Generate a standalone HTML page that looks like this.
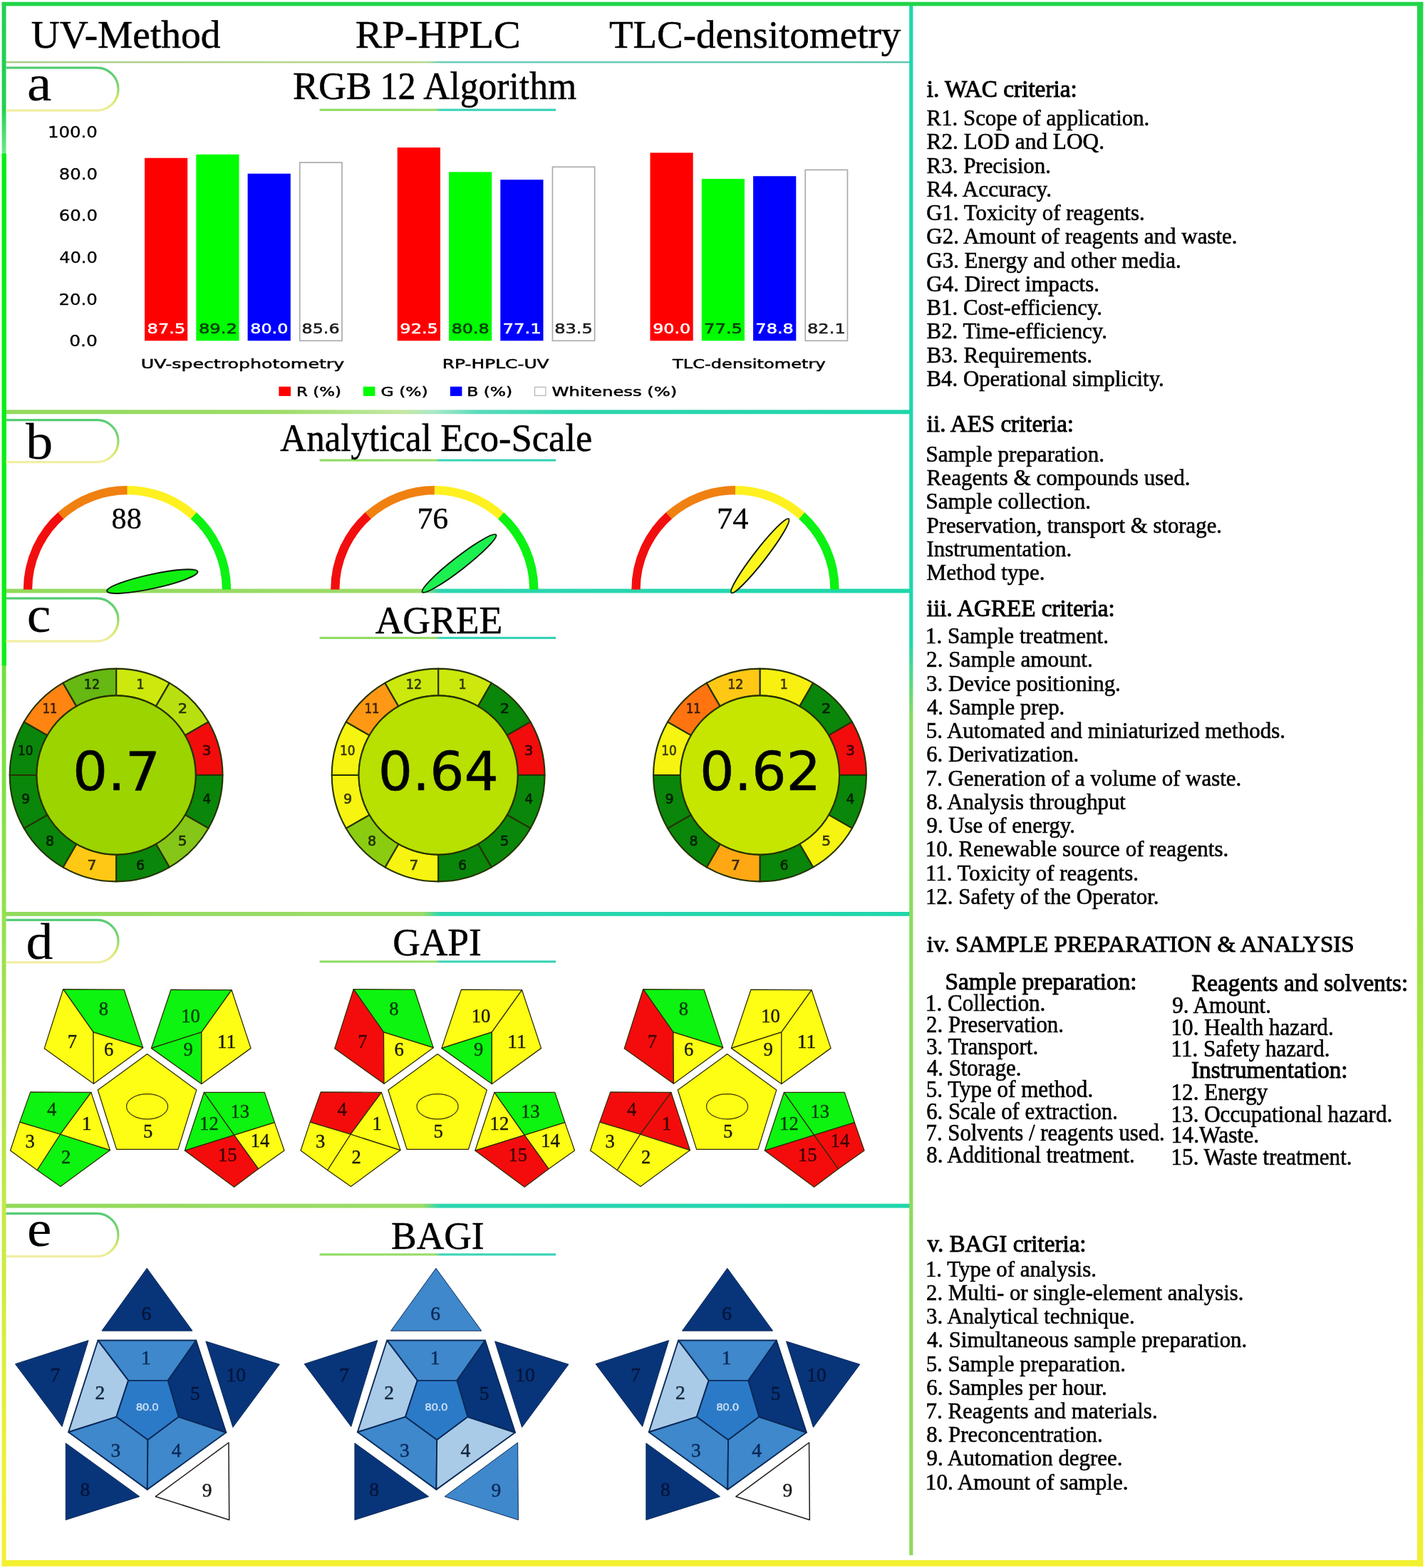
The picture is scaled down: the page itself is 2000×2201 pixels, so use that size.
<!DOCTYPE html>
<html lang="en">
<head>
<meta charset="utf-8">
<title>Greenness, whiteness and blueness assessment of UV, RP-HPLC and TLC-densitometry methods</title>
<style>
html,body{margin:0;padding:0;background:#fff}
body{width:2000px;height:2201px;overflow:hidden}
svg{display:block}
text{white-space:pre}
.s{font-family:"Liberation Serif",serif}
.d{font-family:"DejaVu Sans","Liberation Sans",sans-serif}
.a{font-family:"Liberation Sans",sans-serif}
</style>
</head>
<body>
<svg width="2000" height="2201" viewBox="0 0 2000 2201">
<defs>
<linearGradient id="gL" gradientUnits="userSpaceOnUse" x1="0" y1="3" x2="0" y2="2199">
<stop offset="0" stop-color="#22d050"/><stop offset="0.068" stop-color="#22d050"/>
<stop offset="0.0965" stop-color="#6ee88c"/><stop offset="0.097" stop-color="#04ee12"/>
<stop offset="0.4235" stop-color="#0cee18"/><stop offset="0.4245" stop-color="#70e040"/>
<stop offset="0.60" stop-color="#98e050"/><stop offset="0.78" stop-color="#c4ea44"/>
<stop offset="0.93" stop-color="#eef034"/><stop offset="1" stop-color="#f2f030"/>
</linearGradient>
<linearGradient id="gR" gradientUnits="userSpaceOnUse" x1="0" y1="3" x2="0" y2="2199">
<stop offset="0" stop-color="#22d44a"/><stop offset="0.25" stop-color="#3cd848"/>
<stop offset="0.5" stop-color="#80e040"/><stop offset="0.75" stop-color="#c0ea3c"/>
<stop offset="0.95" stop-color="#f0f030"/><stop offset="1" stop-color="#f2f030"/>
</linearGradient>
<linearGradient id="gD" gradientUnits="userSpaceOnUse" x1="0" y1="9" x2="0" y2="2183">
<stop offset="0" stop-color="#20d6ac"/><stop offset="0.41" stop-color="#20d6ac"/>
<stop offset="0.46" stop-color="#8adc60"/><stop offset="1" stop-color="#92d85c"/>
</linearGradient>
<linearGradient id="gP" x1="0" y1="0" x2="0" y2="1">
<stop offset="0" stop-color="#54cc74"/><stop offset="0.4" stop-color="#7cd470"/>
<stop offset="0.75" stop-color="#d6e868"/><stop offset="1" stop-color="#f2eea4"/>
</linearGradient>
<linearGradient id="gH" gradientUnits="userSpaceOnUse" x1="9" y1="0" x2="1277" y2="0">
<stop offset="0" stop-color="#a8cc84"/><stop offset="0.465" stop-color="#b4d888"/>
<stop offset="0.48" stop-color="#62ccb8"/><stop offset="1" stop-color="#5cc6b0"/>
</linearGradient>
<linearGradient id="gS" gradientUnits="userSpaceOnUse" x1="9" y1="0" x2="1277" y2="0">
<stop offset="0" stop-color="#92da5c"/><stop offset="0.46" stop-color="#9cdc6a"/>
<stop offset="0.48" stop-color="#2cd6b0"/><stop offset="1" stop-color="#20d6ac"/>
</linearGradient>
<linearGradient id="gS1" gradientUnits="userSpaceOnUse" x1="9" y1="0" x2="1277" y2="0">
<stop offset="0" stop-color="#92da5c"/><stop offset="0.3" stop-color="#9cdc68"/>
<stop offset="0.44" stop-color="#c4e8a4"/><stop offset="0.475" stop-color="#a8e8c8"/>
<stop offset="0.52" stop-color="#5cdcbc"/><stop offset="0.62" stop-color="#30d6ae"/><stop offset="1" stop-color="#20d6ac"/>
</linearGradient>
<linearGradient id="gU" gradientUnits="userSpaceOnUse" x1="449" y1="0" x2="780" y2="0">
<stop offset="0" stop-color="#8edc60"/><stop offset="0.49" stop-color="#98dc68"/>
<stop offset="0.51" stop-color="#3cd4b8"/><stop offset="1" stop-color="#34d2b4"/>
</linearGradient>
<filter id="soft" x="0" y="0" width="2000" height="2201" filterUnits="userSpaceOnUse" color-interpolation-filters="sRGB"><feGaussianBlur stdDeviation="0.6"/></filter>
</defs>
<g filter="url(#soft)">
<rect x="0" y="0" width="2000" height="2201" fill="#fff"/>
<rect x="8" y="86.1" width="1269" height="2.4" fill="url(#gH)"/>
<rect x="8" y="575.3" width="1269" height="5.9" fill="url(#gS1)"/>
<rect x="8" y="826.5" width="1269" height="5.9" fill="url(#gS)"/>
<rect x="8" y="1280" width="1269" height="5.9" fill="url(#gS)"/>
<rect x="8" y="1689.7" width="1269" height="5.9" fill="url(#gS)"/>
<rect x="1276.2" y="8" width="5.2" height="2175" fill="url(#gD)"/>
<rect x="2.6" y="3" width="5.9" height="213" fill="url(#gL)"/>
<rect x="2.5" y="216" width="6.4" height="719" fill="url(#gL)"/>
<rect x="2.6" y="935" width="5.9" height="1263.7" fill="url(#gL)"/>
<rect x="1989" y="3" width="8.4" height="2195.7" fill="url(#gR)"/>
<rect x="2.7" y="2.7" width="1994.7" height="5.7" fill="#22d44a"/>
<rect x="2.7" y="2190" width="1994.7" height="8.7" fill="#f2f030"/>
<path d="M8.5 95.1 H135.95 A30.05 30.05 0 0 1 135.95 155.2 H8.5" fill="none" stroke="url(#gP)" stroke-width="3.2"/>
<path d="M8.5 589.7 H136.55 A29.45 29.45 0 0 1 136.55 648.6 H8.5" fill="none" stroke="url(#gP)" stroke-width="3.2"/>
<path d="M8.5 839.9 H135.85 A30.15 30.15 0 0 1 135.85 900.2 H8.5" fill="none" stroke="url(#gP)" stroke-width="3.2"/>
<path d="M8.5 1291.3 H136.25 A29.75 29.75 0 0 1 136.25 1350.8 H8.5" fill="none" stroke="url(#gP)" stroke-width="3.2"/>
<path d="M8.5 1703.3 H135.8 A30.2 30.2 0 0 1 135.8 1763.7 H8.5" fill="none" stroke="url(#gP)" stroke-width="3.2"/>
<text class="s" x="38" y="140.9" font-size="72" textLength="34.36" lengthAdjust="spacingAndGlyphs" stroke="#000" stroke-width="0.15">a</text>
<text class="s" x="36.1" y="644.4" font-size="72" textLength="38.26" lengthAdjust="spacingAndGlyphs" stroke="#000" stroke-width="0.15">b</text>
<text class="s" x="37.78" y="886.6" font-size="72" textLength="33.58" lengthAdjust="spacingAndGlyphs" stroke="#000" stroke-width="0.15">c</text>
<text class="s" x="36.45" y="1346.2" font-size="72" textLength="37.8" lengthAdjust="spacingAndGlyphs" stroke="#000" stroke-width="0.15">d</text>
<text class="s" x="37.91" y="1749.3" font-size="72" textLength="34.4" lengthAdjust="spacingAndGlyphs" stroke="#000" stroke-width="0.15">e</text>
<text class="s" x="43.71" y="66.8" font-size="55" textLength="265.75" lengthAdjust="spacingAndGlyphs" stroke="#000" stroke-width="0.5">UV-Method</text>
<text class="s" x="498.71" y="66.8" font-size="55" textLength="231.9" lengthAdjust="spacingAndGlyphs" stroke="#000" stroke-width="0.5">RP-HPLC</text>
<text class="s" x="854.9" y="66.8" font-size="55" textLength="409.37" lengthAdjust="spacingAndGlyphs" stroke="#000" stroke-width="0.5">TLC-densitometry</text>
<rect x="448.6" y="152.7" width="331.4" height="3.1" fill="url(#gU)"/>
<text class="s" y="139.2" font-size="55" stroke="#000" stroke-width="0.5"><tspan x="410.98" textLength="110.86" lengthAdjust="spacingAndGlyphs">RGB</tspan> <tspan x="533.43" textLength="50.23" lengthAdjust="spacingAndGlyphs">12</tspan> <tspan x="594.19" textLength="214.89" lengthAdjust="spacingAndGlyphs">Algorithm</tspan></text>
<rect x="448.6" y="644.5" width="331.4" height="3.1" fill="url(#gU)"/>
<text class="s" y="632.9" font-size="55" stroke="#000" stroke-width="0.5"><tspan x="393.29" textLength="212.53" lengthAdjust="spacingAndGlyphs">Analytical</tspan> <tspan x="618.23" textLength="213.11" lengthAdjust="spacingAndGlyphs">Eco-Scale</tspan></text>
<rect x="448.6" y="893.9" width="331.4" height="3.1" fill="url(#gU)"/>
<text class="s" y="889" font-size="55" stroke="#000" stroke-width="0.5"><tspan x="526.66" textLength="178.62" lengthAdjust="spacingAndGlyphs">AGREE</tspan></text>
<rect x="448.6" y="1348.3" width="331.4" height="3.1" fill="url(#gU)"/>
<text class="s" y="1341.1" font-size="55" stroke="#000" stroke-width="0.5"><tspan x="551.16" textLength="124.71" lengthAdjust="spacingAndGlyphs">GAPI</tspan></text>
<rect x="448.6" y="1759.4" width="331.4" height="3.1" fill="url(#gU)"/>
<text class="s" y="1752.9" font-size="55" stroke="#000" stroke-width="0.5"><tspan x="548.99" textLength="130.68" lengthAdjust="spacingAndGlyphs">BAGI</tspan></text>
<text class="d" x="97.28" y="486.2" font-size="21" textLength="39.64" lengthAdjust="spacingAndGlyphs" stroke="#000" stroke-width="0.3">0.0</text>
<text class="d" x="82.57" y="427.56" font-size="21" textLength="54.32" lengthAdjust="spacingAndGlyphs" stroke="#000" stroke-width="0.3">20.0</text>
<text class="d" x="83.19" y="368.92" font-size="21" textLength="53.67" lengthAdjust="spacingAndGlyphs" stroke="#000" stroke-width="0.3">40.0</text>
<text class="d" x="82.7" y="310.28" font-size="21" textLength="54.19" lengthAdjust="spacingAndGlyphs" stroke="#000" stroke-width="0.3">60.0</text>
<text class="d" x="82.82" y="251.64" font-size="21" textLength="54.06" lengthAdjust="spacingAndGlyphs" stroke="#000" stroke-width="0.3">80.0</text>
<text class="d" x="67.01" y="193" font-size="21" textLength="69.88" lengthAdjust="spacingAndGlyphs" stroke="#000" stroke-width="0.3">100.0</text>
<rect x="203" y="221.75" width="60.2" height="256.55" fill="#fe0000"/>
<text class="d" x="206.63" y="467.8" font-size="19.3" textLength="53.61" lengthAdjust="spacingAndGlyphs" fill="#ffffff" stroke="#ffffff" stroke-width="0.5">87.5</text>
<rect x="275.3" y="216.77" width="60.2" height="261.53" fill="#00fe00"/>
<text class="d" x="278.92" y="467.8" font-size="19.3" textLength="54" lengthAdjust="spacingAndGlyphs" fill="#063806" stroke="#063806" stroke-width="0.5">89.2</text>
<rect x="347.6" y="243.74" width="60.2" height="234.56" fill="#0000fe"/>
<text class="d" x="351.25" y="467.8" font-size="19.3" textLength="53.1" lengthAdjust="spacingAndGlyphs" fill="#ffffff" stroke="#ffffff" stroke-width="0.5">80.0</text>
<rect x="420.75" y="228.17" width="59.2" height="250.13" fill="#fff" stroke="#ababab" stroke-width="1.7"/>
<text class="d" x="423.55" y="467.8" font-size="19.3" textLength="52.98" lengthAdjust="spacingAndGlyphs" fill="#1a1a1a" stroke="#1a1a1a" stroke-width="0.5">85.6</text>
<text class="d" x="197.87" y="517.4" font-size="18.2" textLength="285.36" lengthAdjust="spacingAndGlyphs" stroke="#000" stroke-width="0.5">UV-spectrophotometry</text>
<rect x="557.7" y="207.09" width="60.2" height="271.21" fill="#fe0000"/>
<text class="d" x="561.33" y="467.8" font-size="19.3" textLength="53.61" lengthAdjust="spacingAndGlyphs" fill="#ffffff" stroke="#ffffff" stroke-width="0.5">92.5</text>
<rect x="630" y="241.39" width="60.2" height="236.91" fill="#00fe00"/>
<text class="d" x="633.65" y="467.8" font-size="19.3" textLength="53.1" lengthAdjust="spacingAndGlyphs" fill="#063806" stroke="#063806" stroke-width="0.5">80.8</text>
<rect x="702.3" y="252.24" width="60.2" height="226.06" fill="#0000fe"/>
<text class="d" x="705.55" y="467.8" font-size="19.3" textLength="54.14" lengthAdjust="spacingAndGlyphs" fill="#ffffff" stroke="#ffffff" stroke-width="0.5">77.1</text>
<rect x="775.45" y="234.33" width="59.2" height="243.97" fill="#fff" stroke="#ababab" stroke-width="1.7"/>
<text class="d" x="778.23" y="467.8" font-size="19.3" textLength="53.61" lengthAdjust="spacingAndGlyphs" fill="#1a1a1a" stroke="#1a1a1a" stroke-width="0.5">83.5</text>
<text class="d" x="620.82" y="517.4" font-size="18.2" textLength="149.82" lengthAdjust="spacingAndGlyphs" stroke="#000" stroke-width="0.5">RP-HPLC-UV</text>
<rect x="912.5" y="214.42" width="60.2" height="263.88" fill="#fe0000"/>
<text class="d" x="916.15" y="467.8" font-size="19.3" textLength="53.1" lengthAdjust="spacingAndGlyphs" fill="#ffffff" stroke="#ffffff" stroke-width="0.5">90.0</text>
<rect x="984.8" y="251.07" width="60.2" height="227.23" fill="#00fe00"/>
<text class="d" x="988.06" y="467.8" font-size="19.3" textLength="54" lengthAdjust="spacingAndGlyphs" fill="#063806" stroke="#063806" stroke-width="0.5">77.5</text>
<rect x="1057.1" y="247.26" width="60.2" height="231.04" fill="#0000fe"/>
<text class="d" x="1060.38" y="467.8" font-size="19.3" textLength="53.49" lengthAdjust="spacingAndGlyphs" fill="#ffffff" stroke="#ffffff" stroke-width="0.5">78.8</text>
<rect x="1130.25" y="238.43" width="59.2" height="239.87" fill="#fff" stroke="#ababab" stroke-width="1.7"/>
<text class="d" x="1133.03" y="467.8" font-size="19.3" textLength="53.74" lengthAdjust="spacingAndGlyphs" fill="#1a1a1a" stroke="#1a1a1a" stroke-width="0.5">82.1</text>
<text class="d" x="944.12" y="517.4" font-size="18.2" textLength="214.6" lengthAdjust="spacingAndGlyphs" stroke="#000" stroke-width="0.5">TLC-densitometry</text>
<rect x="391.4" y="542.7" width="16.6" height="13.2" fill="#fe0000"/>
<text class="d" x="416.11" y="555.7" font-size="17.2" textLength="62.83" lengthAdjust="spacingAndGlyphs" stroke="#000" stroke-width="0.5">R (%)</text>
<rect x="509.8" y="542.7" width="16.6" height="13.2" fill="#00fe00"/>
<text class="d" x="534.62" y="555.7" font-size="17.2" textLength="65.97" lengthAdjust="spacingAndGlyphs" stroke="#000" stroke-width="0.5">G (%)</text>
<rect x="631.8" y="542.7" width="16.6" height="13.2" fill="#0000fe"/>
<text class="d" x="655.26" y="555.7" font-size="17.2" textLength="63.92" lengthAdjust="spacingAndGlyphs" stroke="#000" stroke-width="0.5">B (%)</text>
<rect x="750.5" y="543.4" width="15.4" height="11.9" fill="#fff" stroke="#b8b8b8" stroke-width="1.3"/>
<text class="d" x="774.45" y="555.7" font-size="17.2" textLength="175.91" lengthAdjust="spacingAndGlyphs" stroke="#000" stroke-width="0.5">Whiteness (%)</text>
<path d="M39 827.6 A139.5 139.5 0 0 1 86.06 723.12" fill="none" stroke="#f20e0e" stroke-width="12.3"/>
<path d="M85.16 723.93 A139.5 139.5 0 0 1 179.72 688.11" fill="none" stroke="#f08010" stroke-width="12.3"/>
<path d="M178.5 688.1 A139.5 139.5 0 0 1 272.74 724.75" fill="none" stroke="#fff020" stroke-width="12.3"/>
<path d="M271.84 723.93 A139.5 139.5 0 0 1 318 827.6" fill="none" stroke="#0cf212" stroke-width="12.3"/>
<text class="s" x="156.62" y="741.8" font-size="41.5" textLength="42.07" lengthAdjust="spacingAndGlyphs" stroke="#000" stroke-width="0.3">88</text>
<ellipse cx="213.8" cy="816.1" rx="65.08" ry="10" transform="rotate(-12.16 213.8 816.1)" fill="#10f010" stroke="#0e160a" stroke-width="1.9"/>
<path d="M470.3 827.6 A139.5 139.5 0 0 1 517.36 723.12" fill="none" stroke="#f20e0e" stroke-width="12.3"/>
<path d="M516.46 723.93 A139.5 139.5 0 0 1 611.02 688.11" fill="none" stroke="#f08010" stroke-width="12.3"/>
<path d="M609.8 688.1 A139.5 139.5 0 0 1 704.04 724.75" fill="none" stroke="#fff020" stroke-width="12.3"/>
<path d="M703.14 723.93 A139.5 139.5 0 0 1 749.3 827.6" fill="none" stroke="#0cf212" stroke-width="12.3"/>
<text class="s" x="585.46" y="741.8" font-size="41.5" textLength="43.76" lengthAdjust="spacingAndGlyphs" stroke="#000" stroke-width="0.3">76</text>
<ellipse cx="644.5" cy="790.85" rx="65.48" ry="8.9" transform="rotate(-37.87 644.5 790.85)" fill="#1cf050" stroke="#0e160a" stroke-width="1.9"/>
<path d="M892.5 827.6 A139.5 139.5 0 0 1 939.56 723.12" fill="none" stroke="#f20e0e" stroke-width="12.3"/>
<path d="M938.66 723.93 A139.5 139.5 0 0 1 1033.22 688.11" fill="none" stroke="#f08010" stroke-width="12.3"/>
<path d="M1032 688.1 A139.5 139.5 0 0 1 1126.24 724.75" fill="none" stroke="#fff020" stroke-width="12.3"/>
<path d="M1125.34 723.93 A139.5 139.5 0 0 1 1171.5 827.6" fill="none" stroke="#0cf212" stroke-width="12.3"/>
<text class="s" x="1005.91" y="741.8" font-size="41.5" textLength="44.46" lengthAdjust="spacingAndGlyphs" stroke="#000" stroke-width="0.3">74</text>
<ellipse cx="1066.75" cy="780.2" rx="65.64" ry="8.4" transform="rotate(-52.23 1066.75 780.2)" fill="#fcf61c" stroke="#0e160a" stroke-width="1.9"/>
<path d="M163.1 938.6 A149.4 149.4 0 0 1 237.8 958.62 L218.9 991.35 A111.6 111.6 0 0 0 163.1 976.4 Z" fill="#cce80c" stroke="#263200" stroke-width="2.1" stroke-linejoin="round"/>
<path d="M237.8 958.62 A149.4 149.4 0 0 1 292.48 1013.3 L259.75 1032.2 A111.6 111.6 0 0 0 218.9 991.35 Z" fill="#b8e010" stroke="#263200" stroke-width="2.1" stroke-linejoin="round"/>
<path d="M292.48 1013.3 A149.4 149.4 0 0 1 312.5 1088 L274.7 1088 A111.6 111.6 0 0 0 259.75 1032.2 Z" fill="#f20c0c" stroke="#263200" stroke-width="2.1" stroke-linejoin="round"/>
<path d="M312.5 1088 A149.4 149.4 0 0 1 292.48 1162.7 L259.75 1143.8 A111.6 111.6 0 0 0 274.7 1088 Z" fill="#0a860a" stroke="#263200" stroke-width="2.1" stroke-linejoin="round"/>
<path d="M292.48 1162.7 A149.4 149.4 0 0 1 237.8 1217.38 L218.9 1184.65 A111.6 111.6 0 0 0 259.75 1143.8 Z" fill="#86c618" stroke="#263200" stroke-width="2.1" stroke-linejoin="round"/>
<path d="M237.8 1217.38 A149.4 149.4 0 0 1 163.1 1237.4 L163.1 1199.6 A111.6 111.6 0 0 0 218.9 1184.65 Z" fill="#0a860a" stroke="#263200" stroke-width="2.1" stroke-linejoin="round"/>
<path d="M163.1 1237.4 A149.4 149.4 0 0 1 88.4 1217.38 L107.3 1184.65 A111.6 111.6 0 0 0 163.1 1199.6 Z" fill="#ffc814" stroke="#263200" stroke-width="2.1" stroke-linejoin="round"/>
<path d="M88.4 1217.38 A149.4 149.4 0 0 1 33.72 1162.7 L66.45 1143.8 A111.6 111.6 0 0 0 107.3 1184.65 Z" fill="#0a860a" stroke="#263200" stroke-width="2.1" stroke-linejoin="round"/>
<path d="M33.72 1162.7 A149.4 149.4 0 0 1 13.7 1088 L51.5 1088 A111.6 111.6 0 0 0 66.45 1143.8 Z" fill="#0a860a" stroke="#263200" stroke-width="2.1" stroke-linejoin="round"/>
<path d="M13.7 1088 A149.4 149.4 0 0 1 33.72 1013.3 L66.45 1032.2 A111.6 111.6 0 0 0 51.5 1088 Z" fill="#0a860a" stroke="#263200" stroke-width="2.1" stroke-linejoin="round"/>
<path d="M33.72 1013.3 A149.4 149.4 0 0 1 88.4 958.62 L107.3 991.35 A111.6 111.6 0 0 0 66.45 1032.2 Z" fill="#ff8412" stroke="#263200" stroke-width="2.1" stroke-linejoin="round"/>
<path d="M88.4 958.62 A149.4 149.4 0 0 1 163.1 938.6 L163.1 976.4 A111.6 111.6 0 0 0 107.3 991.35 Z" fill="#66b812" stroke="#263200" stroke-width="2.1" stroke-linejoin="round"/>
<circle cx="163.1" cy="1088" r="111.6" fill="#9cd400" stroke="#263200" stroke-width="2.1"/>
<text class="d" x="191.41" y="966.58" font-size="20" textLength="11.09" lengthAdjust="spacingAndGlyphs" fill="#303702" stroke="#303702" stroke-width="0.7">1</text>
<text class="d" x="249.72" y="1000.62" font-size="20" textLength="13.25" lengthAdjust="spacingAndGlyphs" fill="#2c3503" stroke="#2c3503" stroke-width="0.7">2</text>
<text class="d" x="283.82" y="1059.57" font-size="20" textLength="12.7" lengthAdjust="spacingAndGlyphs" fill="#3a0202" stroke="#3a0202" stroke-width="0.7">3</text>
<text class="d" x="284.41" y="1127.63" font-size="20" textLength="11.5" lengthAdjust="spacingAndGlyphs" fill="#022002" stroke="#022002" stroke-width="0.7">4</text>
<text class="d" x="249.77" y="1186.58" font-size="20" textLength="12.83" lengthAdjust="spacingAndGlyphs" fill="#202f05" stroke="#202f05" stroke-width="0.7">5</text>
<text class="d" x="191" y="1220.62" font-size="20" textLength="12.07" lengthAdjust="spacingAndGlyphs" fill="#022002" stroke="#022002" stroke-width="0.7">6</text>
<text class="d" x="122.63" y="1220.62" font-size="20" textLength="12.97" lengthAdjust="spacingAndGlyphs" fill="#3d3004" stroke="#3d3004" stroke-width="0.7">7</text>
<text class="d" x="64.08" y="1186.58" font-size="20" textLength="12.07" lengthAdjust="spacingAndGlyphs" fill="#022002" stroke="#022002" stroke-width="0.7">8</text>
<text class="d" x="30.03" y="1127.63" font-size="20" textLength="12.19" lengthAdjust="spacingAndGlyphs" fill="#022002" stroke="#022002" stroke-width="0.7">9</text>
<text class="d" x="24.91" y="1059.57" font-size="20" textLength="21.57" lengthAdjust="spacingAndGlyphs" fill="#022002" stroke="#022002" stroke-width="0.7">10</text>
<text class="d" x="59.63" y="1000.62" font-size="20" textLength="20.65" lengthAdjust="spacingAndGlyphs" fill="#3d1f04" stroke="#3d1f04" stroke-width="0.7">11</text>
<text class="d" x="117.84" y="966.58" font-size="20" textLength="22.28" lengthAdjust="spacingAndGlyphs" fill="#182c04" stroke="#182c04" stroke-width="0.7">12</text>
<text class="d" x="101.98" y="1109.3" font-size="75.6" textLength="122.89" lengthAdjust="spacingAndGlyphs" stroke="#000" stroke-width="0.6">0.7</text>
<path d="M615.1 938.6 A149.4 149.4 0 0 1 689.8 958.62 L670.9 991.35 A111.6 111.6 0 0 0 615.1 976.4 Z" fill="#cce80c" stroke="#263200" stroke-width="2.1" stroke-linejoin="round"/>
<path d="M689.8 958.62 A149.4 149.4 0 0 1 744.48 1013.3 L711.75 1032.2 A111.6 111.6 0 0 0 670.9 991.35 Z" fill="#0a860a" stroke="#263200" stroke-width="2.1" stroke-linejoin="round"/>
<path d="M744.48 1013.3 A149.4 149.4 0 0 1 764.5 1088 L726.7 1088 A111.6 111.6 0 0 0 711.75 1032.2 Z" fill="#f20c0c" stroke="#263200" stroke-width="2.1" stroke-linejoin="round"/>
<path d="M764.5 1088 A149.4 149.4 0 0 1 744.48 1162.7 L711.75 1143.8 A111.6 111.6 0 0 0 726.7 1088 Z" fill="#0a860a" stroke="#263200" stroke-width="2.1" stroke-linejoin="round"/>
<path d="M744.48 1162.7 A149.4 149.4 0 0 1 689.8 1217.38 L670.9 1184.65 A111.6 111.6 0 0 0 711.75 1143.8 Z" fill="#0a860a" stroke="#263200" stroke-width="2.1" stroke-linejoin="round"/>
<path d="M689.8 1217.38 A149.4 149.4 0 0 1 615.1 1237.4 L615.1 1199.6 A111.6 111.6 0 0 0 670.9 1184.65 Z" fill="#0a860a" stroke="#263200" stroke-width="2.1" stroke-linejoin="round"/>
<path d="M615.1 1237.4 A149.4 149.4 0 0 1 540.4 1217.38 L559.3 1184.65 A111.6 111.6 0 0 0 615.1 1199.6 Z" fill="#f6f410" stroke="#263200" stroke-width="2.1" stroke-linejoin="round"/>
<path d="M540.4 1217.38 A149.4 149.4 0 0 1 485.72 1162.7 L518.45 1143.8 A111.6 111.6 0 0 0 559.3 1184.65 Z" fill="#8ccc10" stroke="#263200" stroke-width="2.1" stroke-linejoin="round"/>
<path d="M485.72 1162.7 A149.4 149.4 0 0 1 465.7 1088 L503.5 1088 A111.6 111.6 0 0 0 518.45 1143.8 Z" fill="#f6f410" stroke="#263200" stroke-width="2.1" stroke-linejoin="round"/>
<path d="M465.7 1088 A149.4 149.4 0 0 1 485.72 1013.3 L518.45 1032.2 A111.6 111.6 0 0 0 503.5 1088 Z" fill="#f6f410" stroke="#263200" stroke-width="2.1" stroke-linejoin="round"/>
<path d="M485.72 1013.3 A149.4 149.4 0 0 1 540.4 958.62 L559.3 991.35 A111.6 111.6 0 0 0 518.45 1032.2 Z" fill="#ff9814" stroke="#263200" stroke-width="2.1" stroke-linejoin="round"/>
<path d="M540.4 958.62 A149.4 149.4 0 0 1 615.1 938.6 L615.1 976.4 A111.6 111.6 0 0 0 559.3 991.35 Z" fill="#cce80c" stroke="#263200" stroke-width="2.1" stroke-linejoin="round"/>
<circle cx="615.1" cy="1088" r="111.6" fill="#b8e000" stroke="#263200" stroke-width="2.1"/>
<text class="d" x="643.41" y="966.58" font-size="20" textLength="11.09" lengthAdjust="spacingAndGlyphs" fill="#303702" stroke="#303702" stroke-width="0.7">1</text>
<text class="d" x="701.72" y="1000.62" font-size="20" textLength="13.25" lengthAdjust="spacingAndGlyphs" fill="#022002" stroke="#022002" stroke-width="0.7">2</text>
<text class="d" x="735.82" y="1059.57" font-size="20" textLength="12.7" lengthAdjust="spacingAndGlyphs" fill="#3a0202" stroke="#3a0202" stroke-width="0.7">3</text>
<text class="d" x="736.41" y="1127.63" font-size="20" textLength="11.5" lengthAdjust="spacingAndGlyphs" fill="#022002" stroke="#022002" stroke-width="0.7">4</text>
<text class="d" x="701.77" y="1186.58" font-size="20" textLength="12.83" lengthAdjust="spacingAndGlyphs" fill="#022002" stroke="#022002" stroke-width="0.7">5</text>
<text class="d" x="643" y="1220.62" font-size="20" textLength="12.07" lengthAdjust="spacingAndGlyphs" fill="#022002" stroke="#022002" stroke-width="0.7">6</text>
<text class="d" x="574.63" y="1220.62" font-size="20" textLength="12.97" lengthAdjust="spacingAndGlyphs" fill="#3b3a03" stroke="#3b3a03" stroke-width="0.7">7</text>
<text class="d" x="516.08" y="1186.58" font-size="20" textLength="12.07" lengthAdjust="spacingAndGlyphs" fill="#213003" stroke="#213003" stroke-width="0.7">8</text>
<text class="d" x="482.03" y="1127.63" font-size="20" textLength="12.19" lengthAdjust="spacingAndGlyphs" fill="#3b3a03" stroke="#3b3a03" stroke-width="0.7">9</text>
<text class="d" x="476.91" y="1059.57" font-size="20" textLength="21.57" lengthAdjust="spacingAndGlyphs" fill="#3b3a03" stroke="#3b3a03" stroke-width="0.7">10</text>
<text class="d" x="511.63" y="1000.62" font-size="20" textLength="20.65" lengthAdjust="spacingAndGlyphs" fill="#3d2404" stroke="#3d2404" stroke-width="0.7">11</text>
<text class="d" x="569.84" y="966.58" font-size="20" textLength="22.28" lengthAdjust="spacingAndGlyphs" fill="#303702" stroke="#303702" stroke-width="0.7">12</text>
<text class="d" x="530.77" y="1109.3" font-size="75.6" textLength="168.91" lengthAdjust="spacingAndGlyphs" stroke="#000" stroke-width="0.6">0.64</text>
<path d="M1066.5 938.6 A149.4 149.4 0 0 1 1141.2 958.62 L1122.3 991.35 A111.6 111.6 0 0 0 1066.5 976.4 Z" fill="#f8f010" stroke="#263200" stroke-width="2.1" stroke-linejoin="round"/>
<path d="M1141.2 958.62 A149.4 149.4 0 0 1 1195.88 1013.3 L1163.15 1032.2 A111.6 111.6 0 0 0 1122.3 991.35 Z" fill="#0a860a" stroke="#263200" stroke-width="2.1" stroke-linejoin="round"/>
<path d="M1195.88 1013.3 A149.4 149.4 0 0 1 1215.9 1088 L1178.1 1088 A111.6 111.6 0 0 0 1163.15 1032.2 Z" fill="#f20c0c" stroke="#263200" stroke-width="2.1" stroke-linejoin="round"/>
<path d="M1215.9 1088 A149.4 149.4 0 0 1 1195.88 1162.7 L1163.15 1143.8 A111.6 111.6 0 0 0 1178.1 1088 Z" fill="#0a860a" stroke="#263200" stroke-width="2.1" stroke-linejoin="round"/>
<path d="M1195.88 1162.7 A149.4 149.4 0 0 1 1141.2 1217.38 L1122.3 1184.65 A111.6 111.6 0 0 0 1163.15 1143.8 Z" fill="#f6f410" stroke="#263200" stroke-width="2.1" stroke-linejoin="round"/>
<path d="M1141.2 1217.38 A149.4 149.4 0 0 1 1066.5 1237.4 L1066.5 1199.6 A111.6 111.6 0 0 0 1122.3 1184.65 Z" fill="#0a860a" stroke="#263200" stroke-width="2.1" stroke-linejoin="round"/>
<path d="M1066.5 1237.4 A149.4 149.4 0 0 1 991.8 1217.38 L1010.7 1184.65 A111.6 111.6 0 0 0 1066.5 1199.6 Z" fill="#ffa814" stroke="#263200" stroke-width="2.1" stroke-linejoin="round"/>
<path d="M991.8 1217.38 A149.4 149.4 0 0 1 937.12 1162.7 L969.85 1143.8 A111.6 111.6 0 0 0 1010.7 1184.65 Z" fill="#0a860a" stroke="#263200" stroke-width="2.1" stroke-linejoin="round"/>
<path d="M937.12 1162.7 A149.4 149.4 0 0 1 917.1 1088 L954.9 1088 A111.6 111.6 0 0 0 969.85 1143.8 Z" fill="#0a860a" stroke="#263200" stroke-width="2.1" stroke-linejoin="round"/>
<path d="M917.1 1088 A149.4 149.4 0 0 1 937.12 1013.3 L969.85 1032.2 A111.6 111.6 0 0 0 954.9 1088 Z" fill="#f6f410" stroke="#263200" stroke-width="2.1" stroke-linejoin="round"/>
<path d="M937.12 1013.3 A149.4 149.4 0 0 1 991.8 958.62 L1010.7 991.35 A111.6 111.6 0 0 0 969.85 1032.2 Z" fill="#ff7410" stroke="#263200" stroke-width="2.1" stroke-linejoin="round"/>
<path d="M991.8 958.62 A149.4 149.4 0 0 1 1066.5 938.6 L1066.5 976.4 A111.6 111.6 0 0 0 1010.7 991.35 Z" fill="#ffc814" stroke="#263200" stroke-width="2.1" stroke-linejoin="round"/>
<circle cx="1066.5" cy="1088" r="111.6" fill="#c6e600" stroke="#263200" stroke-width="2.1"/>
<text class="d" x="1094.81" y="966.58" font-size="20" textLength="11.09" lengthAdjust="spacingAndGlyphs" fill="#3b3903" stroke="#3b3903" stroke-width="0.7">1</text>
<text class="d" x="1153.12" y="1000.62" font-size="20" textLength="13.25" lengthAdjust="spacingAndGlyphs" fill="#022002" stroke="#022002" stroke-width="0.7">2</text>
<text class="d" x="1187.22" y="1059.57" font-size="20" textLength="12.7" lengthAdjust="spacingAndGlyphs" fill="#3a0202" stroke="#3a0202" stroke-width="0.7">3</text>
<text class="d" x="1187.81" y="1127.63" font-size="20" textLength="11.5" lengthAdjust="spacingAndGlyphs" fill="#022002" stroke="#022002" stroke-width="0.7">4</text>
<text class="d" x="1153.17" y="1186.58" font-size="20" textLength="12.83" lengthAdjust="spacingAndGlyphs" fill="#3b3a03" stroke="#3b3a03" stroke-width="0.7">5</text>
<text class="d" x="1094.4" y="1220.62" font-size="20" textLength="12.07" lengthAdjust="spacingAndGlyphs" fill="#022002" stroke="#022002" stroke-width="0.7">6</text>
<text class="d" x="1026.03" y="1220.62" font-size="20" textLength="12.97" lengthAdjust="spacingAndGlyphs" fill="#3d2804" stroke="#3d2804" stroke-width="0.7">7</text>
<text class="d" x="967.48" y="1186.58" font-size="20" textLength="12.07" lengthAdjust="spacingAndGlyphs" fill="#022002" stroke="#022002" stroke-width="0.7">8</text>
<text class="d" x="933.43" y="1127.63" font-size="20" textLength="12.19" lengthAdjust="spacingAndGlyphs" fill="#022002" stroke="#022002" stroke-width="0.7">9</text>
<text class="d" x="928.31" y="1059.57" font-size="20" textLength="21.57" lengthAdjust="spacingAndGlyphs" fill="#3b3a03" stroke="#3b3a03" stroke-width="0.7">10</text>
<text class="d" x="963.03" y="1000.62" font-size="20" textLength="20.65" lengthAdjust="spacingAndGlyphs" fill="#3d1b03" stroke="#3d1b03" stroke-width="0.7">11</text>
<text class="d" x="1021.24" y="966.58" font-size="20" textLength="22.28" lengthAdjust="spacingAndGlyphs" fill="#3d3004" stroke="#3d3004" stroke-width="0.7">12</text>
<text class="d" x="982.03" y="1109.3" font-size="75.6" textLength="170.22" lengthAdjust="spacingAndGlyphs" stroke="#000" stroke-width="0.6">0.62</text>
<polygon points="88.72,1388.53 174.16,1389.23 200.68,1470.68 130.97,1448.85" fill="#0cf410" stroke="#2c2a00" stroke-width="1.25" stroke-linejoin="round"/>
<polygon points="88.72,1388.53 130.97,1448.85 131.44,1521.14 62.2,1471.85" fill="#fefe14" stroke="#2c2a00" stroke-width="1.25" stroke-linejoin="round"/>
<polygon points="130.97,1448.85 200.68,1470.68 131.44,1521.14" fill="#fefe14" stroke="#2c2a00" stroke-width="1.25" stroke-linejoin="round"/>
<polygon points="239.88,1389.23 325.08,1389.7 282.83,1448.85 212.42,1471.38" fill="#0cf410" stroke="#2c2a00" stroke-width="1.25" stroke-linejoin="round"/>
<polygon points="212.42,1471.38 282.83,1448.85 282.83,1521.61" fill="#0cf410" stroke="#2c2a00" stroke-width="1.25" stroke-linejoin="round"/>
<polygon points="325.08,1389.7 352.07,1471.38 282.83,1521.61 282.83,1448.85" fill="#fefe14" stroke="#2c2a00" stroke-width="1.25" stroke-linejoin="round"/>
<polygon points="206.55,1479.6 275.79,1530.06 249.97,1613.39 163.6,1613.39 137.31,1530.06" fill="#fefe14" stroke="#2c2a00" stroke-width="1.25" stroke-linejoin="round"/>
<polygon points="42.72,1532.88 127.92,1533.35 84.5,1592.26 27.7,1575.13" fill="#0cf410" stroke="#2c2a00" stroke-width="1.25" stroke-linejoin="round"/>
<polygon points="127.92,1533.35 154.44,1614.56 84.5,1592.26" fill="#fefe14" stroke="#2c2a00" stroke-width="1.25" stroke-linejoin="round"/>
<polygon points="84.5,1592.26 154.44,1614.56 84.97,1665.49 52.11,1642.49" fill="#0cf410" stroke="#2c2a00" stroke-width="1.25" stroke-linejoin="round"/>
<polygon points="27.7,1575.13 84.5,1592.26 52.11,1642.49 14.55,1615.03" fill="#fefe14" stroke="#2c2a00" stroke-width="1.25" stroke-linejoin="round"/>
<polygon points="286.35,1533.35 371.32,1533.35 385.4,1575.6 328.6,1593.44" fill="#0cf410" stroke="#2c2a00" stroke-width="1.25" stroke-linejoin="round"/>
<polygon points="286.35,1533.35 328.6,1593.44 259.36,1615.03" fill="#0cf410" stroke="#2c2a00" stroke-width="1.25" stroke-linejoin="round"/>
<polygon points="328.6,1593.44 385.4,1575.6 399.01,1615.03 362.63,1640.85" fill="#fefe14" stroke="#2c2a00" stroke-width="1.25" stroke-linejoin="round"/>
<polygon points="259.36,1615.03 328.6,1593.44 362.63,1640.85 328.6,1666.2" fill="#f40c0c" stroke="#2c2a00" stroke-width="1.25" stroke-linejoin="round"/>
<ellipse cx="206.55" cy="1553.3" rx="29" ry="17.6" fill="none" stroke="#3a3400" stroke-width="1.2"/>
<text class="s" x="145.52" y="1425.4" font-size="28" fill="#023a03" text-anchor="middle" stroke="#023a03" stroke-width="0.4" textLength="13.3" lengthAdjust="spacingAndGlyphs">8</text>
<text class="s" x="101.4" y="1471.17" font-size="28" fill="#191902" text-anchor="middle" stroke="#191902" stroke-width="0.4" textLength="13.3" lengthAdjust="spacingAndGlyphs">7</text>
<text class="s" x="152.56" y="1481.73" font-size="28" fill="#191902" text-anchor="middle" stroke="#191902" stroke-width="0.4" textLength="13.3" lengthAdjust="spacingAndGlyphs">6</text>
<text class="s" x="267.57" y="1434.78" font-size="28" fill="#023a03" text-anchor="middle" stroke="#023a03" stroke-width="0.4" textLength="26.6" lengthAdjust="spacingAndGlyphs">10</text>
<text class="s" x="264.05" y="1481.73" font-size="28" fill="#023a03" text-anchor="middle" stroke="#023a03" stroke-width="0.4" textLength="13.3" lengthAdjust="spacingAndGlyphs">9</text>
<text class="s" x="318.04" y="1471.17" font-size="28" fill="#191902" text-anchor="middle" stroke="#191902" stroke-width="0.4" textLength="26.6" lengthAdjust="spacingAndGlyphs">11</text>
<text class="s" x="207.72" y="1596.74" font-size="28" fill="#191902" text-anchor="middle" stroke="#191902" stroke-width="0.4" textLength="13.3" lengthAdjust="spacingAndGlyphs">5</text>
<text class="s" x="72.76" y="1565.52" font-size="28" fill="#023a03" text-anchor="middle" stroke="#023a03" stroke-width="0.4" textLength="13.3" lengthAdjust="spacingAndGlyphs">4</text>
<text class="s" x="121.58" y="1586.18" font-size="28" fill="#191902" text-anchor="middle" stroke="#191902" stroke-width="0.4" textLength="13.3" lengthAdjust="spacingAndGlyphs">1</text>
<text class="s" x="42.25" y="1610.82" font-size="28" fill="#191902" text-anchor="middle" stroke="#191902" stroke-width="0.4" textLength="13.3" lengthAdjust="spacingAndGlyphs">3</text>
<text class="s" x="92.71" y="1633.12" font-size="28" fill="#023a03" text-anchor="middle" stroke="#023a03" stroke-width="0.4" textLength="13.3" lengthAdjust="spacingAndGlyphs">2</text>
<text class="s" x="336.81" y="1568.57" font-size="28" fill="#023a03" text-anchor="middle" stroke="#023a03" stroke-width="0.4" textLength="26.6" lengthAdjust="spacingAndGlyphs">13</text>
<text class="s" x="293.39" y="1586.18" font-size="28" fill="#023a03" text-anchor="middle" stroke="#023a03" stroke-width="0.4" textLength="26.6" lengthAdjust="spacingAndGlyphs">12</text>
<text class="s" x="364.98" y="1610.12" font-size="28" fill="#191902" text-anchor="middle" stroke="#191902" stroke-width="0.4" textLength="26.6" lengthAdjust="spacingAndGlyphs">14</text>
<text class="s" x="319.21" y="1629.6" font-size="28" fill="#3a0202" text-anchor="middle" stroke="#3a0202" stroke-width="0.4" textLength="26.6" lengthAdjust="spacingAndGlyphs">15</text>
<polygon points="496.22,1388.53 581.66,1389.23 608.18,1470.68 538.47,1448.85" fill="#0cf410" stroke="#2c2a00" stroke-width="1.25" stroke-linejoin="round"/>
<polygon points="496.22,1388.53 538.47,1448.85 538.94,1521.14 469.7,1471.85" fill="#f40c0c" stroke="#2c2a00" stroke-width="1.25" stroke-linejoin="round"/>
<polygon points="538.47,1448.85 608.18,1470.68 538.94,1521.14" fill="#fefe14" stroke="#2c2a00" stroke-width="1.25" stroke-linejoin="round"/>
<polygon points="647.38,1389.23 732.58,1389.7 690.33,1448.85 619.92,1471.38" fill="#fefe14" stroke="#2c2a00" stroke-width="1.25" stroke-linejoin="round"/>
<polygon points="619.92,1471.38 690.33,1448.85 690.33,1521.61" fill="#0cf410" stroke="#2c2a00" stroke-width="1.25" stroke-linejoin="round"/>
<polygon points="732.58,1389.7 759.57,1471.38 690.33,1521.61 690.33,1448.85" fill="#fefe14" stroke="#2c2a00" stroke-width="1.25" stroke-linejoin="round"/>
<polygon points="614.05,1479.6 683.29,1530.06 657.47,1613.39 571.1,1613.39 544.81,1530.06" fill="#fefe14" stroke="#2c2a00" stroke-width="1.25" stroke-linejoin="round"/>
<polygon points="450.22,1532.88 535.42,1533.35 492,1592.26 435.2,1575.13" fill="#f40c0c" stroke="#2c2a00" stroke-width="1.25" stroke-linejoin="round"/>
<polygon points="535.42,1533.35 561.94,1614.56 492,1592.26" fill="#fefe14" stroke="#2c2a00" stroke-width="1.25" stroke-linejoin="round"/>
<polygon points="492,1592.26 561.94,1614.56 492.47,1665.49 459.61,1642.49" fill="#fefe14" stroke="#2c2a00" stroke-width="1.25" stroke-linejoin="round"/>
<polygon points="435.2,1575.13 492,1592.26 459.61,1642.49 422.05,1615.03" fill="#fefe14" stroke="#2c2a00" stroke-width="1.25" stroke-linejoin="round"/>
<polygon points="693.85,1533.35 778.82,1533.35 792.9,1575.6 736.1,1593.44" fill="#0cf410" stroke="#2c2a00" stroke-width="1.25" stroke-linejoin="round"/>
<polygon points="693.85,1533.35 736.1,1593.44 666.86,1615.03" fill="#fefe14" stroke="#2c2a00" stroke-width="1.25" stroke-linejoin="round"/>
<polygon points="736.1,1593.44 792.9,1575.6 806.51,1615.03 770.13,1640.85" fill="#fefe14" stroke="#2c2a00" stroke-width="1.25" stroke-linejoin="round"/>
<polygon points="666.86,1615.03 736.1,1593.44 770.13,1640.85 736.1,1666.2" fill="#f40c0c" stroke="#2c2a00" stroke-width="1.25" stroke-linejoin="round"/>
<ellipse cx="614.05" cy="1553.3" rx="29" ry="17.6" fill="none" stroke="#3a3400" stroke-width="1.2"/>
<text class="s" x="553.02" y="1425.4" font-size="28" fill="#023a03" text-anchor="middle" stroke="#023a03" stroke-width="0.4" textLength="13.3" lengthAdjust="spacingAndGlyphs">8</text>
<text class="s" x="508.9" y="1471.17" font-size="28" fill="#3a0202" text-anchor="middle" stroke="#3a0202" stroke-width="0.4" textLength="13.3" lengthAdjust="spacingAndGlyphs">7</text>
<text class="s" x="560.06" y="1481.73" font-size="28" fill="#191902" text-anchor="middle" stroke="#191902" stroke-width="0.4" textLength="13.3" lengthAdjust="spacingAndGlyphs">6</text>
<text class="s" x="675.07" y="1434.78" font-size="28" fill="#191902" text-anchor="middle" stroke="#191902" stroke-width="0.4" textLength="26.6" lengthAdjust="spacingAndGlyphs">10</text>
<text class="s" x="671.55" y="1481.73" font-size="28" fill="#023a03" text-anchor="middle" stroke="#023a03" stroke-width="0.4" textLength="13.3" lengthAdjust="spacingAndGlyphs">9</text>
<text class="s" x="725.54" y="1471.17" font-size="28" fill="#191902" text-anchor="middle" stroke="#191902" stroke-width="0.4" textLength="26.6" lengthAdjust="spacingAndGlyphs">11</text>
<text class="s" x="615.22" y="1596.74" font-size="28" fill="#191902" text-anchor="middle" stroke="#191902" stroke-width="0.4" textLength="13.3" lengthAdjust="spacingAndGlyphs">5</text>
<text class="s" x="480.26" y="1565.52" font-size="28" fill="#3a0202" text-anchor="middle" stroke="#3a0202" stroke-width="0.4" textLength="13.3" lengthAdjust="spacingAndGlyphs">4</text>
<text class="s" x="529.08" y="1586.18" font-size="28" fill="#191902" text-anchor="middle" stroke="#191902" stroke-width="0.4" textLength="13.3" lengthAdjust="spacingAndGlyphs">1</text>
<text class="s" x="449.75" y="1610.82" font-size="28" fill="#191902" text-anchor="middle" stroke="#191902" stroke-width="0.4" textLength="13.3" lengthAdjust="spacingAndGlyphs">3</text>
<text class="s" x="500.21" y="1633.12" font-size="28" fill="#191902" text-anchor="middle" stroke="#191902" stroke-width="0.4" textLength="13.3" lengthAdjust="spacingAndGlyphs">2</text>
<text class="s" x="744.31" y="1568.57" font-size="28" fill="#023a03" text-anchor="middle" stroke="#023a03" stroke-width="0.4" textLength="26.6" lengthAdjust="spacingAndGlyphs">13</text>
<text class="s" x="700.89" y="1586.18" font-size="28" fill="#191902" text-anchor="middle" stroke="#191902" stroke-width="0.4" textLength="26.6" lengthAdjust="spacingAndGlyphs">12</text>
<text class="s" x="772.48" y="1610.12" font-size="28" fill="#191902" text-anchor="middle" stroke="#191902" stroke-width="0.4" textLength="26.6" lengthAdjust="spacingAndGlyphs">14</text>
<text class="s" x="726.71" y="1629.6" font-size="28" fill="#3a0202" text-anchor="middle" stroke="#3a0202" stroke-width="0.4" textLength="26.6" lengthAdjust="spacingAndGlyphs">15</text>
<polygon points="902.72,1388.53 988.16,1389.23 1014.68,1470.68 944.97,1448.85" fill="#0cf410" stroke="#2c2a00" stroke-width="1.25" stroke-linejoin="round"/>
<polygon points="902.72,1388.53 944.97,1448.85 945.44,1521.14 876.2,1471.85" fill="#f40c0c" stroke="#2c2a00" stroke-width="1.25" stroke-linejoin="round"/>
<polygon points="944.97,1448.85 1014.68,1470.68 945.44,1521.14" fill="#fefe14" stroke="#2c2a00" stroke-width="1.25" stroke-linejoin="round"/>
<polygon points="1053.88,1389.23 1139.08,1389.7 1096.83,1448.85 1026.42,1471.38" fill="#fefe14" stroke="#2c2a00" stroke-width="1.25" stroke-linejoin="round"/>
<polygon points="1026.42,1471.38 1096.83,1448.85 1096.83,1521.61" fill="#fefe14" stroke="#2c2a00" stroke-width="1.25" stroke-linejoin="round"/>
<polygon points="1139.08,1389.7 1166.07,1471.38 1096.83,1521.61 1096.83,1448.85" fill="#fefe14" stroke="#2c2a00" stroke-width="1.25" stroke-linejoin="round"/>
<polygon points="1020.55,1479.6 1089.79,1530.06 1063.97,1613.39 977.6,1613.39 951.31,1530.06" fill="#fefe14" stroke="#2c2a00" stroke-width="1.25" stroke-linejoin="round"/>
<polygon points="856.72,1532.88 941.92,1533.35 898.5,1592.26 841.7,1575.13" fill="#f40c0c" stroke="#2c2a00" stroke-width="1.25" stroke-linejoin="round"/>
<polygon points="941.92,1533.35 968.44,1614.56 898.5,1592.26" fill="#f40c0c" stroke="#2c2a00" stroke-width="1.25" stroke-linejoin="round"/>
<polygon points="898.5,1592.26 968.44,1614.56 898.97,1665.49 866.11,1642.49" fill="#fefe14" stroke="#2c2a00" stroke-width="1.25" stroke-linejoin="round"/>
<polygon points="841.7,1575.13 898.5,1592.26 866.11,1642.49 828.55,1615.03" fill="#fefe14" stroke="#2c2a00" stroke-width="1.25" stroke-linejoin="round"/>
<polygon points="1100.35,1533.35 1185.32,1533.35 1199.4,1575.6 1142.6,1593.44" fill="#0cf410" stroke="#2c2a00" stroke-width="1.25" stroke-linejoin="round"/>
<polygon points="1100.35,1533.35 1142.6,1593.44 1073.36,1615.03" fill="#0cf410" stroke="#2c2a00" stroke-width="1.25" stroke-linejoin="round"/>
<polygon points="1142.6,1593.44 1199.4,1575.6 1213.01,1615.03 1176.63,1640.85" fill="#f40c0c" stroke="#2c2a00" stroke-width="1.25" stroke-linejoin="round"/>
<polygon points="1073.36,1615.03 1142.6,1593.44 1176.63,1640.85 1142.6,1666.2" fill="#f40c0c" stroke="#2c2a00" stroke-width="1.25" stroke-linejoin="round"/>
<ellipse cx="1020.55" cy="1553.3" rx="29" ry="17.6" fill="none" stroke="#3a3400" stroke-width="1.2"/>
<text class="s" x="959.52" y="1425.4" font-size="28" fill="#023a03" text-anchor="middle" stroke="#023a03" stroke-width="0.4" textLength="13.3" lengthAdjust="spacingAndGlyphs">8</text>
<text class="s" x="915.4" y="1471.17" font-size="28" fill="#3a0202" text-anchor="middle" stroke="#3a0202" stroke-width="0.4" textLength="13.3" lengthAdjust="spacingAndGlyphs">7</text>
<text class="s" x="966.56" y="1481.73" font-size="28" fill="#191902" text-anchor="middle" stroke="#191902" stroke-width="0.4" textLength="13.3" lengthAdjust="spacingAndGlyphs">6</text>
<text class="s" x="1081.57" y="1434.78" font-size="28" fill="#191902" text-anchor="middle" stroke="#191902" stroke-width="0.4" textLength="26.6" lengthAdjust="spacingAndGlyphs">10</text>
<text class="s" x="1078.05" y="1481.73" font-size="28" fill="#191902" text-anchor="middle" stroke="#191902" stroke-width="0.4" textLength="13.3" lengthAdjust="spacingAndGlyphs">9</text>
<text class="s" x="1132.04" y="1471.17" font-size="28" fill="#191902" text-anchor="middle" stroke="#191902" stroke-width="0.4" textLength="26.6" lengthAdjust="spacingAndGlyphs">11</text>
<text class="s" x="1021.72" y="1596.74" font-size="28" fill="#191902" text-anchor="middle" stroke="#191902" stroke-width="0.4" textLength="13.3" lengthAdjust="spacingAndGlyphs">5</text>
<text class="s" x="886.76" y="1565.52" font-size="28" fill="#3a0202" text-anchor="middle" stroke="#3a0202" stroke-width="0.4" textLength="13.3" lengthAdjust="spacingAndGlyphs">4</text>
<text class="s" x="935.58" y="1586.18" font-size="28" fill="#3a0202" text-anchor="middle" stroke="#3a0202" stroke-width="0.4" textLength="13.3" lengthAdjust="spacingAndGlyphs">1</text>
<text class="s" x="856.25" y="1610.82" font-size="28" fill="#191902" text-anchor="middle" stroke="#191902" stroke-width="0.4" textLength="13.3" lengthAdjust="spacingAndGlyphs">3</text>
<text class="s" x="906.71" y="1633.12" font-size="28" fill="#191902" text-anchor="middle" stroke="#191902" stroke-width="0.4" textLength="13.3" lengthAdjust="spacingAndGlyphs">2</text>
<text class="s" x="1150.81" y="1568.57" font-size="28" fill="#023a03" text-anchor="middle" stroke="#023a03" stroke-width="0.4" textLength="26.6" lengthAdjust="spacingAndGlyphs">13</text>
<text class="s" x="1107.39" y="1586.18" font-size="28" fill="#023a03" text-anchor="middle" stroke="#023a03" stroke-width="0.4" textLength="26.6" lengthAdjust="spacingAndGlyphs">12</text>
<text class="s" x="1178.98" y="1610.12" font-size="28" fill="#3a0202" text-anchor="middle" stroke="#3a0202" stroke-width="0.4" textLength="26.6" lengthAdjust="spacingAndGlyphs">14</text>
<text class="s" x="1133.21" y="1629.6" font-size="28" fill="#3a0202" text-anchor="middle" stroke="#3a0202" stroke-width="0.4" textLength="26.6" lengthAdjust="spacingAndGlyphs">15</text>
<polygon points="206.21,1780.26 270.04,1868.12 142.9,1868.12" fill="#08347a" stroke="#0a2a58" stroke-width="1" stroke-linejoin="round"/>
<polygon points="21.45,1914.64 124.04,1881.56 87.08,2002.5" fill="#08347a" stroke="#0a2a58" stroke-width="1" stroke-linejoin="round"/>
<polygon points="392.27,1915.15 326.89,2003.53 288.9,1882.85" fill="#08347a" stroke="#0a2a58" stroke-width="1" stroke-linejoin="round"/>
<polygon points="92.25,2025.75 195.88,2100.69 92.25,2133.51" fill="#08347a" stroke="#0a2a58" stroke-width="1" stroke-linejoin="round"/>
<polygon points="320.95,2024.98 321.72,2133.51 218.36,2100.69" fill="#ffffff" stroke="#1c1c1c" stroke-width="1.5" stroke-linejoin="round"/>
<polygon points="137.47,1881.56 275.21,1881.56 235.67,1937.89 180.11,1937.89" fill="#3f88cc" stroke="#0a2a58" stroke-width="1.9" stroke-linejoin="round"/>
<polygon points="137.47,1881.56 180.11,1937.89 163.32,1988.8 96.13,2010.25" fill="#a9cbe8" stroke="#0a2a58" stroke-width="1.9" stroke-linejoin="round"/>
<polygon points="96.13,2010.25 163.32,1988.8 207.5,2021.1 206.73,2090.87" fill="#3f88cc" stroke="#0a2a58" stroke-width="1.9" stroke-linejoin="round"/>
<polygon points="206.73,2090.87 207.5,2021.1 250.66,1988.8 317.33,2010.77" fill="#3f88cc" stroke="#0a2a58" stroke-width="1.9" stroke-linejoin="round"/>
<polygon points="275.21,1881.56 317.33,2010.77 250.66,1988.8 235.67,1937.89" fill="#08347a" stroke="#0a2a58" stroke-width="1.9" stroke-linejoin="round"/>
<polygon points="180.11,1937.89 235.67,1937.89 250.66,1988.8 207.5,2021.1 163.32,1988.8" fill="#2b7ac8" stroke="#0a2a58" stroke-width="1.9" stroke-linejoin="round"/>
<text class="s" x="205.44" y="1853.29" font-size="27.5" fill="#04163a" text-anchor="middle" stroke="#04163a" stroke-width="0.5">6</text>
<text class="s" x="77.52" y="1938.57" font-size="27.5" fill="#04163a" text-anchor="middle" stroke="#04163a" stroke-width="0.5">7</text>
<text class="s" x="331.28" y="1938.57" font-size="27.5" fill="#04163a" text-anchor="middle" stroke="#04163a" stroke-width="0.5">10</text>
<text class="s" x="119.39" y="2099.56" font-size="27.5" fill="#04163a" text-anchor="middle" stroke="#04163a" stroke-width="0.5">8</text>
<text class="s" x="290.71" y="2100.59" font-size="27.5" fill="#1a1a1a" text-anchor="middle" stroke="#1a1a1a" stroke-width="0.5">9</text>
<text class="s" x="204.92" y="1914.79" font-size="27.5" fill="#0a2a58" text-anchor="middle" stroke="#0a2a58" stroke-width="0.5">1</text>
<text class="s" x="140.32" y="1964.41" font-size="27.5" fill="#16283c" text-anchor="middle" stroke="#16283c" stroke-width="0.5">2</text>
<text class="s" x="273.92" y="1965.44" font-size="27.5" fill="#04163a" text-anchor="middle" stroke="#04163a" stroke-width="0.5">5</text>
<text class="s" x="162.28" y="2044.52" font-size="27.5" fill="#0a2a58" text-anchor="middle" stroke="#0a2a58" stroke-width="0.5">3</text>
<text class="s" x="247.56" y="2044.52" font-size="27.5" fill="#0a2a58" text-anchor="middle" stroke="#0a2a58" stroke-width="0.5">4</text>
<text class="a" x="206.73" y="1979.69" font-size="14.2" textLength="31.6" lengthAdjust="spacingAndGlyphs" fill="#d2e2f4" text-anchor="middle" stroke="#d2e2f4" stroke-width="0.35">80.0</text>
<polygon points="611.91,1780.26 675.74,1868.12 548.6,1868.12" fill="#3f88cc" stroke="#0a2a58" stroke-width="1" stroke-linejoin="round"/>
<polygon points="427.15,1914.64 529.74,1881.56 492.78,2002.5" fill="#08347a" stroke="#0a2a58" stroke-width="1" stroke-linejoin="round"/>
<polygon points="797.97,1915.15 732.59,2003.53 694.6,1882.85" fill="#08347a" stroke="#0a2a58" stroke-width="1" stroke-linejoin="round"/>
<polygon points="497.95,2025.75 601.58,2100.69 497.95,2133.51" fill="#08347a" stroke="#0a2a58" stroke-width="1" stroke-linejoin="round"/>
<polygon points="726.65,2024.98 727.42,2133.51 624.06,2100.69" fill="#3f88cc" stroke="#0a2a58" stroke-width="1" stroke-linejoin="round"/>
<polygon points="543.17,1881.56 680.91,1881.56 641.37,1937.89 585.81,1937.89" fill="#3f88cc" stroke="#0a2a58" stroke-width="1.9" stroke-linejoin="round"/>
<polygon points="543.17,1881.56 585.81,1937.89 569.02,1988.8 501.83,2010.25" fill="#a9cbe8" stroke="#0a2a58" stroke-width="1.9" stroke-linejoin="round"/>
<polygon points="501.83,2010.25 569.02,1988.8 613.2,2021.1 612.43,2090.87" fill="#3f88cc" stroke="#0a2a58" stroke-width="1.9" stroke-linejoin="round"/>
<polygon points="612.43,2090.87 613.2,2021.1 656.36,1988.8 723.03,2010.77" fill="#a9cbe8" stroke="#0a2a58" stroke-width="1.9" stroke-linejoin="round"/>
<polygon points="680.91,1881.56 723.03,2010.77 656.36,1988.8 641.37,1937.89" fill="#08347a" stroke="#0a2a58" stroke-width="1.9" stroke-linejoin="round"/>
<polygon points="585.81,1937.89 641.37,1937.89 656.36,1988.8 613.2,2021.1 569.02,1988.8" fill="#2b7ac8" stroke="#0a2a58" stroke-width="1.9" stroke-linejoin="round"/>
<text class="s" x="611.14" y="1853.29" font-size="27.5" fill="#0a2a58" text-anchor="middle" stroke="#0a2a58" stroke-width="0.5">6</text>
<text class="s" x="483.22" y="1938.57" font-size="27.5" fill="#04163a" text-anchor="middle" stroke="#04163a" stroke-width="0.5">7</text>
<text class="s" x="736.98" y="1938.57" font-size="27.5" fill="#04163a" text-anchor="middle" stroke="#04163a" stroke-width="0.5">10</text>
<text class="s" x="525.09" y="2099.56" font-size="27.5" fill="#04163a" text-anchor="middle" stroke="#04163a" stroke-width="0.5">8</text>
<text class="s" x="696.41" y="2100.59" font-size="27.5" fill="#0a2a58" text-anchor="middle" stroke="#0a2a58" stroke-width="0.5">9</text>
<text class="s" x="610.62" y="1914.79" font-size="27.5" fill="#0a2a58" text-anchor="middle" stroke="#0a2a58" stroke-width="0.5">1</text>
<text class="s" x="546.02" y="1964.41" font-size="27.5" fill="#16283c" text-anchor="middle" stroke="#16283c" stroke-width="0.5">2</text>
<text class="s" x="679.62" y="1965.44" font-size="27.5" fill="#04163a" text-anchor="middle" stroke="#04163a" stroke-width="0.5">5</text>
<text class="s" x="567.98" y="2044.52" font-size="27.5" fill="#0a2a58" text-anchor="middle" stroke="#0a2a58" stroke-width="0.5">3</text>
<text class="s" x="653.26" y="2044.52" font-size="27.5" fill="#16283c" text-anchor="middle" stroke="#16283c" stroke-width="0.5">4</text>
<text class="a" x="612.43" y="1979.69" font-size="14.2" textLength="31.6" lengthAdjust="spacingAndGlyphs" fill="#d2e2f4" text-anchor="middle" stroke="#d2e2f4" stroke-width="0.35">80.0</text>
<polygon points="1020.81,1780.26 1084.64,1868.12 957.5,1868.12" fill="#08347a" stroke="#0a2a58" stroke-width="1" stroke-linejoin="round"/>
<polygon points="836.05,1914.64 938.64,1881.56 901.68,2002.5" fill="#08347a" stroke="#0a2a58" stroke-width="1" stroke-linejoin="round"/>
<polygon points="1206.87,1915.15 1141.49,2003.53 1103.5,1882.85" fill="#08347a" stroke="#0a2a58" stroke-width="1" stroke-linejoin="round"/>
<polygon points="906.85,2025.75 1010.48,2100.69 906.85,2133.51" fill="#08347a" stroke="#0a2a58" stroke-width="1" stroke-linejoin="round"/>
<polygon points="1135.55,2024.98 1136.32,2133.51 1032.96,2100.69" fill="#ffffff" stroke="#1c1c1c" stroke-width="1.5" stroke-linejoin="round"/>
<polygon points="952.07,1881.56 1089.81,1881.56 1050.27,1937.89 994.71,1937.89" fill="#3f88cc" stroke="#0a2a58" stroke-width="1.9" stroke-linejoin="round"/>
<polygon points="952.07,1881.56 994.71,1937.89 977.92,1988.8 910.73,2010.25" fill="#a9cbe8" stroke="#0a2a58" stroke-width="1.9" stroke-linejoin="round"/>
<polygon points="910.73,2010.25 977.92,1988.8 1022.1,2021.1 1021.33,2090.87" fill="#3f88cc" stroke="#0a2a58" stroke-width="1.9" stroke-linejoin="round"/>
<polygon points="1021.33,2090.87 1022.1,2021.1 1065.26,1988.8 1131.93,2010.77" fill="#3f88cc" stroke="#0a2a58" stroke-width="1.9" stroke-linejoin="round"/>
<polygon points="1089.81,1881.56 1131.93,2010.77 1065.26,1988.8 1050.27,1937.89" fill="#08347a" stroke="#0a2a58" stroke-width="1.9" stroke-linejoin="round"/>
<polygon points="994.71,1937.89 1050.27,1937.89 1065.26,1988.8 1022.1,2021.1 977.92,1988.8" fill="#2b7ac8" stroke="#0a2a58" stroke-width="1.9" stroke-linejoin="round"/>
<text class="s" x="1020.04" y="1853.29" font-size="27.5" fill="#04163a" text-anchor="middle" stroke="#04163a" stroke-width="0.5">6</text>
<text class="s" x="892.12" y="1938.57" font-size="27.5" fill="#04163a" text-anchor="middle" stroke="#04163a" stroke-width="0.5">7</text>
<text class="s" x="1145.88" y="1938.57" font-size="27.5" fill="#04163a" text-anchor="middle" stroke="#04163a" stroke-width="0.5">10</text>
<text class="s" x="933.99" y="2099.56" font-size="27.5" fill="#04163a" text-anchor="middle" stroke="#04163a" stroke-width="0.5">8</text>
<text class="s" x="1105.31" y="2100.59" font-size="27.5" fill="#1a1a1a" text-anchor="middle" stroke="#1a1a1a" stroke-width="0.5">9</text>
<text class="s" x="1019.52" y="1914.79" font-size="27.5" fill="#0a2a58" text-anchor="middle" stroke="#0a2a58" stroke-width="0.5">1</text>
<text class="s" x="954.92" y="1964.41" font-size="27.5" fill="#16283c" text-anchor="middle" stroke="#16283c" stroke-width="0.5">2</text>
<text class="s" x="1088.52" y="1965.44" font-size="27.5" fill="#04163a" text-anchor="middle" stroke="#04163a" stroke-width="0.5">5</text>
<text class="s" x="976.88" y="2044.52" font-size="27.5" fill="#0a2a58" text-anchor="middle" stroke="#0a2a58" stroke-width="0.5">3</text>
<text class="s" x="1062.16" y="2044.52" font-size="27.5" fill="#0a2a58" text-anchor="middle" stroke="#0a2a58" stroke-width="0.5">4</text>
<text class="a" x="1021.33" y="1979.69" font-size="14.2" textLength="31.6" lengthAdjust="spacingAndGlyphs" fill="#d2e2f4" text-anchor="middle" stroke="#d2e2f4" stroke-width="0.35">80.0</text>
<text class="s" x="1300.85" y="136.4" font-size="33" textLength="210.85" lengthAdjust="spacingAndGlyphs" stroke="#000" stroke-width="0.95">i. WAC criteria:</text>
<text class="s" x="1300.58" y="176" font-size="32.3" textLength="312.73" lengthAdjust="spacingAndGlyphs" stroke="#000" stroke-width="0.6">R1. Scope of application.</text>
<text class="s" x="1300.56" y="209.27" font-size="32.3" textLength="249.48" lengthAdjust="spacingAndGlyphs" stroke="#000" stroke-width="0.6">R2. LOD and LOQ.</text>
<text class="s" x="1300.57" y="242.54" font-size="32.3" textLength="174.44" lengthAdjust="spacingAndGlyphs" stroke="#000" stroke-width="0.6">R3. Precision.</text>
<text class="s" x="1300.58" y="275.81" font-size="32.3" textLength="175.34" lengthAdjust="spacingAndGlyphs" stroke="#000" stroke-width="0.6">R4. Accuracy.</text>
<text class="s" x="1300.28" y="309.08" font-size="32.3" textLength="306.36" lengthAdjust="spacingAndGlyphs" stroke="#000" stroke-width="0.6">G1. Toxicity of reagents.</text>
<text class="s" x="1300.27" y="342.35" font-size="32.3" textLength="436.31" lengthAdjust="spacingAndGlyphs" stroke="#000" stroke-width="0.6">G2. Amount of reagents and waste.</text>
<text class="s" x="1300.26" y="375.62" font-size="32.3" textLength="357.44" lengthAdjust="spacingAndGlyphs" stroke="#000" stroke-width="0.6">G3. Energy and other media.</text>
<text class="s" x="1300.26" y="408.89" font-size="32.3" textLength="242.75" lengthAdjust="spacingAndGlyphs" stroke="#000" stroke-width="0.6">G4. Direct impacts.</text>
<text class="s" x="1300.59" y="442.16" font-size="32.3" textLength="246.35" lengthAdjust="spacingAndGlyphs" stroke="#000" stroke-width="0.6">B1. Cost-efficiency.</text>
<text class="s" x="1300.59" y="475.43" font-size="32.3" textLength="253.31" lengthAdjust="spacingAndGlyphs" stroke="#000" stroke-width="0.6">B2. Time-efficiency.</text>
<text class="s" x="1300.57" y="508.7" font-size="32.3" textLength="232.45" lengthAdjust="spacingAndGlyphs" stroke="#000" stroke-width="0.6">B3. Requirements.</text>
<text class="s" x="1300.58" y="541.97" font-size="32.3" textLength="333.17" lengthAdjust="spacingAndGlyphs" stroke="#000" stroke-width="0.6">B4. Operational simplicity.</text>
<text class="s" x="1300.85" y="606" font-size="33" textLength="206.2" lengthAdjust="spacingAndGlyphs" stroke="#000" stroke-width="0.95">ii. AES criteria:</text>
<text class="s" x="1299.48" y="648" font-size="32.3" textLength="250.54" lengthAdjust="spacingAndGlyphs" stroke="#000" stroke-width="0.6">Sample preparation.</text>
<text class="s" x="1300.57" y="681.1" font-size="32.3" textLength="369.95" lengthAdjust="spacingAndGlyphs" stroke="#000" stroke-width="0.6">Reagents &amp; compounds used.</text>
<text class="s" x="1299.48" y="714.4" font-size="32.3" textLength="231.53" lengthAdjust="spacingAndGlyphs" stroke="#000" stroke-width="0.6">Sample collection.</text>
<text class="s" x="1300.58" y="747.6" font-size="32.3" textLength="414.42" lengthAdjust="spacingAndGlyphs" stroke="#000" stroke-width="0.6">Preservation, transport &amp; storage.</text>
<text class="s" x="1300.42" y="780.8" font-size="32.3" textLength="203.89" lengthAdjust="spacingAndGlyphs" stroke="#000" stroke-width="0.6">Instrumentation.</text>
<text class="s" x="1300.57" y="814.1" font-size="32.3" textLength="165.95" lengthAdjust="spacingAndGlyphs" stroke="#000" stroke-width="0.6">Method type.</text>
<text class="s" x="1300.84" y="865.3" font-size="33" textLength="263.92" lengthAdjust="spacingAndGlyphs" stroke="#000" stroke-width="0.95">iii. AGREE criteria:</text>
<text class="s" x="1298.86" y="903" font-size="32.3" textLength="257.15" lengthAdjust="spacingAndGlyphs" stroke="#000" stroke-width="0.6">1. Sample treatment.</text>
<text class="s" x="1300.1" y="936.2" font-size="32.3" textLength="233.72" lengthAdjust="spacingAndGlyphs" stroke="#000" stroke-width="0.6">2. Sample amount.</text>
<text class="s" x="1300.11" y="969.5" font-size="32.3" textLength="272.69" lengthAdjust="spacingAndGlyphs" stroke="#000" stroke-width="0.6">3. Device positioning.</text>
<text class="s" x="1300.88" y="1002.6" font-size="32.3" textLength="193.42" lengthAdjust="spacingAndGlyphs" stroke="#000" stroke-width="0.6">4. Sample prep.</text>
<text class="s" x="1299.65" y="1035.7" font-size="32.3" textLength="504.33" lengthAdjust="spacingAndGlyphs" stroke="#000" stroke-width="0.6">5. Automated and miniaturized methods.</text>
<text class="s" x="1300.27" y="1069.3" font-size="32.3" textLength="214.02" lengthAdjust="spacingAndGlyphs" stroke="#000" stroke-width="0.6">6. Derivatization.</text>
<text class="s" x="1299.49" y="1102.7" font-size="32.3" textLength="442.71" lengthAdjust="spacingAndGlyphs" stroke="#000" stroke-width="0.6">7. Generation of a volume of waste.</text>
<text class="s" x="1300.28" y="1135.9" font-size="32.3" textLength="279.6" lengthAdjust="spacingAndGlyphs" stroke="#000" stroke-width="0.6">8. Analysis throughput</text>
<text class="s" x="1300.59" y="1169" font-size="32.3" textLength="208.34" lengthAdjust="spacingAndGlyphs" stroke="#000" stroke-width="0.6">9. Use of energy.</text>
<text class="s" x="1298.87" y="1202.3" font-size="32.3" textLength="425.45" lengthAdjust="spacingAndGlyphs" stroke="#000" stroke-width="0.6">10. Renewable source of reagents.</text>
<text class="s" x="1298.91" y="1235.5" font-size="32.3" textLength="299.01" lengthAdjust="spacingAndGlyphs" stroke="#000" stroke-width="0.6">11. Toxicity of reagents.</text>
<text class="s" x="1298.89" y="1268.6" font-size="32.3" textLength="327.68" lengthAdjust="spacingAndGlyphs" stroke="#000" stroke-width="0.6">12. Safety of the Operator.</text>
<text class="s" x="1300.85" y="1335.8" font-size="32.6" textLength="599.84" lengthAdjust="spacingAndGlyphs" stroke="#000" stroke-width="0.95">iv. SAMPLE PREPARATION &amp; ANALYSIS</text>
<text class="s" x="1326.44" y="1388.7" font-size="33.4" textLength="269.18" lengthAdjust="spacingAndGlyphs" stroke="#000" stroke-width="0.95">Sample preparation:</text>
<text class="s" x="1298.86" y="1418.8" font-size="32.8" textLength="168.46" lengthAdjust="spacingAndGlyphs" stroke="#000" stroke-width="0.6">1. Collection.</text>
<text class="s" x="1300.11" y="1449.3" font-size="32.8" textLength="192.89" lengthAdjust="spacingAndGlyphs" stroke="#000" stroke-width="0.6">2. Preservation.</text>
<text class="s" x="1300.13" y="1479.8" font-size="32.8" textLength="157.03" lengthAdjust="spacingAndGlyphs" stroke="#000" stroke-width="0.6">3. Transport.</text>
<text class="s" x="1300.89" y="1509.7" font-size="32.8" textLength="132.51" lengthAdjust="spacingAndGlyphs" stroke="#000" stroke-width="0.6">4. Storage.</text>
<text class="s" x="1299.66" y="1540.3" font-size="32.8" textLength="234.49" lengthAdjust="spacingAndGlyphs" stroke="#000" stroke-width="0.6">5. Type of method.</text>
<text class="s" x="1300.27" y="1570.7" font-size="32.8" textLength="268.62" lengthAdjust="spacingAndGlyphs" stroke="#000" stroke-width="0.6">6. Scale of extraction.</text>
<text class="s" x="1299.5" y="1601.3" font-size="32.8" textLength="335.09" lengthAdjust="spacingAndGlyphs" stroke="#000" stroke-width="0.6">7. Solvents / reagents used.</text>
<text class="s" x="1300.28" y="1632" font-size="32.8" textLength="292.48" lengthAdjust="spacingAndGlyphs" stroke="#000" stroke-width="0.6">8. Additional treatment.</text>
<text class="s" x="1672.21" y="1391.4" font-size="33.4" textLength="303.91" lengthAdjust="spacingAndGlyphs" stroke="#000" stroke-width="0.95">Reagents and solvents:</text>
<text class="s" x="1672.04" y="1513.4" font-size="33.4" textLength="219.57" lengthAdjust="spacingAndGlyphs" stroke="#000" stroke-width="0.95">Instrumentation:</text>
<text class="s" x="1645.28" y="1422" font-size="32.8" textLength="138.68" lengthAdjust="spacingAndGlyphs" stroke="#000" stroke-width="0.6">9. Amount.</text>
<text class="s" x="1643.56" y="1452.7" font-size="32.8" textLength="228.16" lengthAdjust="spacingAndGlyphs" stroke="#000" stroke-width="0.6">10. Health hazard.</text>
<text class="s" x="1643.58" y="1483.1" font-size="32.8" textLength="222.91" lengthAdjust="spacingAndGlyphs" stroke="#000" stroke-width="0.6">11. Safety hazard.</text>
<text class="s" x="1643.57" y="1544.3" font-size="32.8" textLength="135.77" lengthAdjust="spacingAndGlyphs" stroke="#000" stroke-width="0.6">12. Energy</text>
<text class="s" x="1643.56" y="1574.6" font-size="32.8" textLength="310.66" lengthAdjust="spacingAndGlyphs" stroke="#000" stroke-width="0.6">13. Occupational hazard.</text>
<text class="s" x="1643.57" y="1604.1" font-size="32.8" textLength="123.7" lengthAdjust="spacingAndGlyphs" stroke="#000" stroke-width="0.6">14.Waste.</text>
<text class="s" x="1643.6" y="1635.2" font-size="32.8" textLength="253.95" lengthAdjust="spacingAndGlyphs" stroke="#000" stroke-width="0.6">15. Waste treatment.</text>
<text class="s" x="1301.5" y="1757" font-size="33" textLength="223.05" lengthAdjust="spacingAndGlyphs" stroke="#000" stroke-width="0.95">v. BAGI criteria:</text>
<text class="s" x="1298.91" y="1791.8" font-size="32.3" textLength="240.03" lengthAdjust="spacingAndGlyphs" stroke="#000" stroke-width="0.6">1. Type of analysis.</text>
<text class="s" x="1300.12" y="1824.8" font-size="32.3" textLength="445.27" lengthAdjust="spacingAndGlyphs" stroke="#000" stroke-width="0.6">2. Multi- or single-element analysis.</text>
<text class="s" x="1300.12" y="1858" font-size="32.3" textLength="292.64" lengthAdjust="spacingAndGlyphs" stroke="#000" stroke-width="0.6">3. Analytical technique.</text>
<text class="s" x="1300.88" y="1891.4" font-size="32.3" textLength="449.31" lengthAdjust="spacingAndGlyphs" stroke="#000" stroke-width="0.6">4. Simultaneous sample preparation.</text>
<text class="s" x="1299.65" y="1924.5" font-size="32.3" textLength="280.36" lengthAdjust="spacingAndGlyphs" stroke="#000" stroke-width="0.6">5. Sample preparation.</text>
<text class="s" x="1300.27" y="1957.6" font-size="32.3" textLength="253.4" lengthAdjust="spacingAndGlyphs" stroke="#000" stroke-width="0.6">6. Samples per hour.</text>
<text class="s" x="1299.5" y="1991.1" font-size="32.3" textLength="325.11" lengthAdjust="spacingAndGlyphs" stroke="#000" stroke-width="0.6">7. Reagents and materials.</text>
<text class="s" x="1300.27" y="2024.1" font-size="32.3" textLength="247.43" lengthAdjust="spacingAndGlyphs" stroke="#000" stroke-width="0.6">8. Preconcentration.</text>
<text class="s" x="1300.58" y="2057.2" font-size="32.3" textLength="274.99" lengthAdjust="spacingAndGlyphs" stroke="#000" stroke-width="0.6">9. Automation degree.</text>
<text class="s" x="1298.87" y="2090.7" font-size="32.3" textLength="284.71" lengthAdjust="spacingAndGlyphs" stroke="#000" stroke-width="0.6">10. Amount of sample.</text>
</g>
</svg>
</body>
</html>
